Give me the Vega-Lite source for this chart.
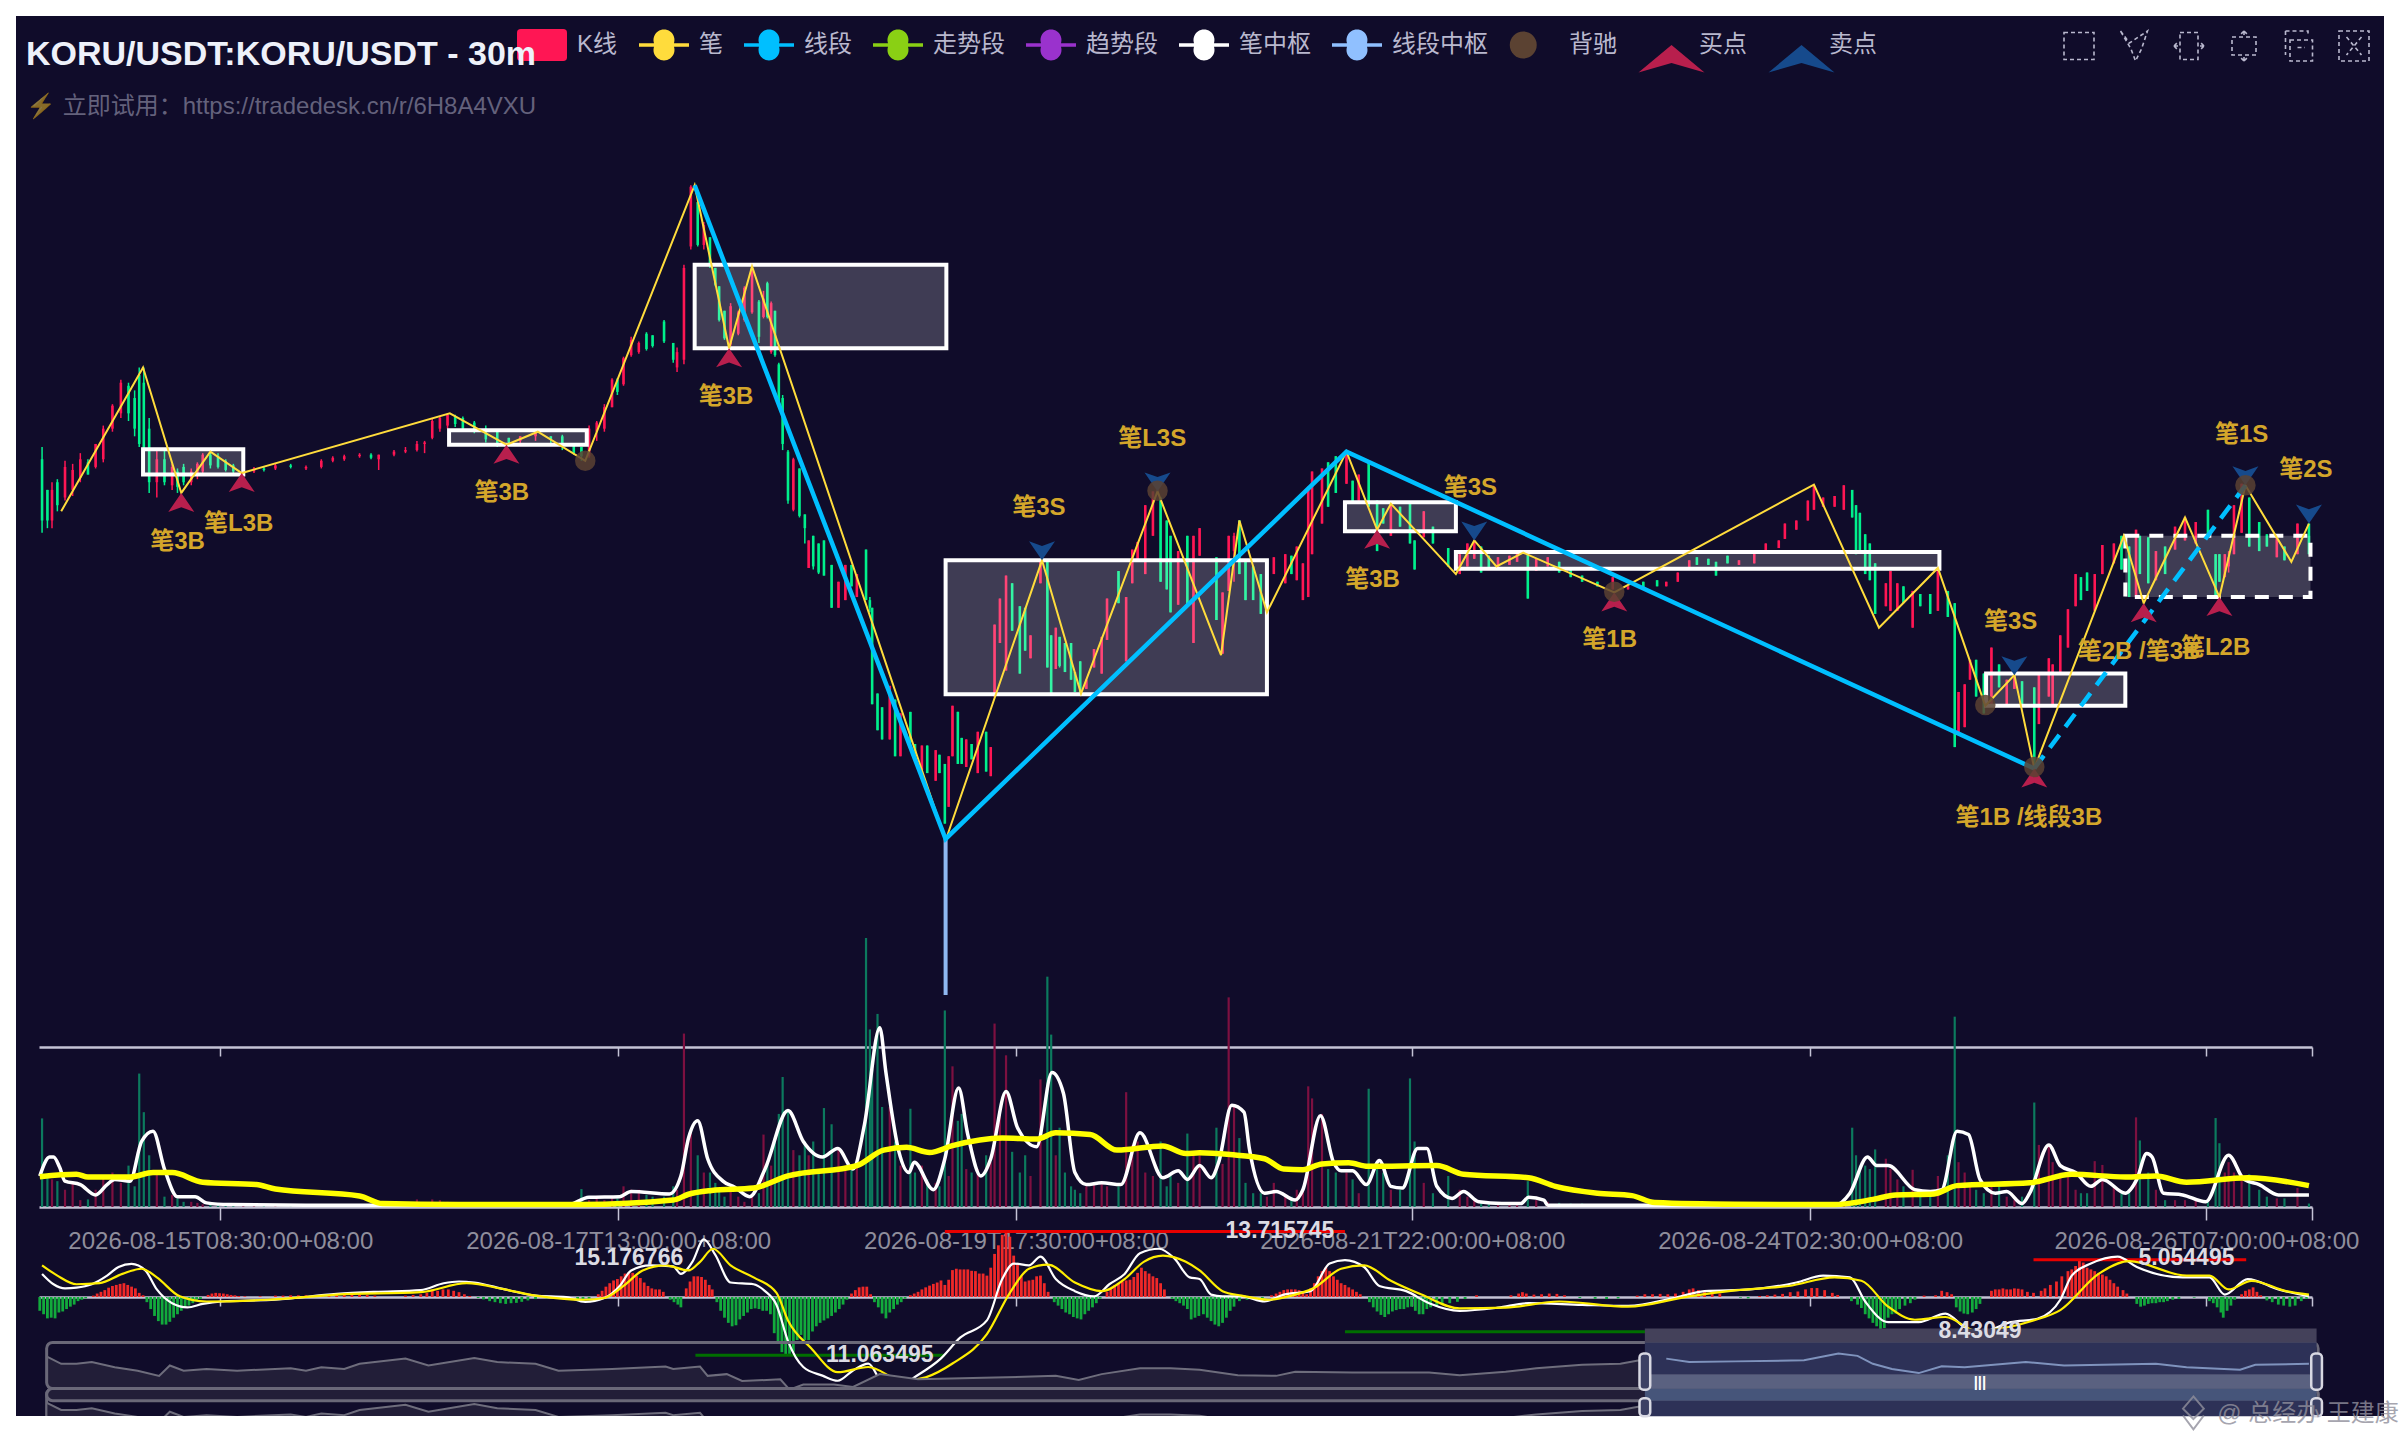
{
"$schema":"https://vega.github.io/schema/vega-lite/v6.json",
"description":"KORU/USDT 30m chan theory chart with volume and MACD",
"width":2368,"height":1400,"autosize":"none",
"padding":{"left":16,"top":16,"right":16,"bottom":24},
"background":"#ffffff",
"view":{"fill":"#100c2a","stroke":null},
"title":{"text":"KORU/USDT:KORU/USDT - 30m","subtitle":"⚡ 立即试用：https://tradedesk.cn/r/6H8A4VXU","anchor":"start","frame":"group","offset":-103,"dx":10,"color":"#eef1fa","font":"Liberation Sans","fontSize":34,"fontWeight":"bold","subtitleColor":"rgba(185,184,206,0.5)","subtitleFontSize":24,"subtitleFont":"Liberation Sans, Noto Sans CJK SC","subtitlePadding":23},
"datasets":{
"k":[
{"t":55,"o":70,"c":66,"h":70.8,"l":65.2,"v":257},{"t":62,"o":68,"c":66,"h":68,"l":65.5,"v":90},{"t":68,"o":66,"c":68,"h":68.5,"l":65.5,"v":80},{"t":75,"o":68.5,"c":67,"h":68.7,"l":66.6,"v":75},{"t":85,"o":67.5,"c":69.5,"h":69.9,"l":67.3,"v":50},{"t":95,"o":68,"c":69.3,"h":69.7,"l":67.6,"v":70},{"t":105,"o":68.8,"c":70,"h":70.4,"l":68.5,"v":20},{"t":115,"o":69.8,"c":69,"h":70,"l":69,"v":22},{"t":125,"o":69.5,"c":71,"h":71,"l":69.4,"v":50},{"t":135,"o":70,"c":72,"h":72.2,"l":69.8,"v":90},{"t":147,"o":72,"c":73.5,"h":73.6,"l":71.8,"v":100},{"t":158,"o":73,"c":75,"h":75.2,"l":72.7,"v":70},{"t":168,"o":74.8,"c":73,"h":75,"l":72.5,"v":120},{"t":176,"o":74,"c":72,"h":74.5,"l":71.5,"v":60},{"t":182,"o":75.5,"c":71,"h":76,"l":70.8,"v":387},{"t":188,"o":75,"c":70.5,"h":76,"l":70,"v":275},
{"t":195,"o":72,"c":68.5,"h":72.7,"l":67.8,"v":150},{"t":205,"o":68.5,"c":70,"h":70.6,"l":67.5,"v":100},{"t":215,"o":70,"c":68.5,"h":70.6,"l":68.3,"v":30},{"t":225,"o":68.3,"c":69.5,"h":69.7,"l":68,"v":35},{"t":232,"o":69.2,"c":68.2,"h":69.4,"l":67.8,"v":25},{"t":240,"o":69.5,"c":68.5,"h":69.7,"l":68.3,"v":15},{"t":250,"o":68.5,"c":69.2,"h":69.4,"l":68.3,"v":15},{"t":258,"o":69,"c":69.7,"h":69.8,"l":68.7,"v":12},{"t":265,"o":69.2,"c":70.3,"h":70.4,"l":69,"v":8},{"t":275,"o":70.3,"c":69.6,"h":70.5,"l":69.4,"v":8},{"t":285,"o":70.2,"c":69.5,"h":70.4,"l":69.4,"v":8},{"t":295,"o":69.9,"c":69.3,"h":70,"l":69.2,"v":7},{"t":305,"o":69.6,"c":69.2,"h":69.7,"l":69.1,"v":6},{"t":318,"o":69.1,"c":69.3,"h":69.4,"l":69,"v":5},{"t":332,"o":69.2,"c":69.4,"h":69.5,"l":69.1,"v":5},{"t":345,"o":69.4,"c":69.3,"h":69.5,"l":69.2,"v":5},{"t":360,"o":69.4,"c":69.6,"h":69.7,"l":69.3,"v":5},{"t":380,"o":69.6,"c":69.5,"h":69.7,"l":69.4,"v":4},{"t":400,"o":69.4,"c":69.5,"h":69.6,"l":69.3,"v":4},{"t":420,"o":69.5,"c":69.9,"h":70,"l":69.4,"v":4},{"t":435,"o":69.9,"c":70.1,"h":70.2,"l":69.8,"v":5},{"t":450,"o":70,"c":70.2,"h":70.3,"l":69.9,"v":5},{"t":470,"o":70.2,"c":70.3,"h":70.4,"l":70.1,"v":5},{"t":485,"o":70.3,"c":70.1,"h":70.4,"l":70,"v":5},{"t":495,"o":70,"c":70.3,"h":70.3,"l":69.3,"v":6},{"t":515,"o":70.3,"c":70.5,"h":70.6,"l":70.2,"v":6},{"t":530,"o":70.5,"c":70.6,"h":70.8,"l":70.4,"v":6},{"t":545,"o":70.6,"c":71,"h":71.2,"l":70.5,"v":22},{"t":555,"o":71,"c":71.1,"h":71.2,"l":70.4,"v":10},{"t":565,"o":71.4,"c":72.5,"h":72.7,"l":71.3,"v":22},{"t":575,"o":72,"c":72.7,"h":72.8,"l":71.8,"v":20},{"t":585,"o":72.2,"c":72.9,"h":73,"l":72,"v":15},{"t":595,"o":72.8,"c":72.3,"h":72.9,"l":72.1,"v":10},{"t":605,"o":72.7,"c":72,"h":72.8,"l":71.8,"v":10},{"t":620,"o":72.4,"c":71.9,"h":72.5,"l":71.7,"v":8},{"t":635,"o":72,"c":71.3,"h":72.2,"l":71.1,"v":8},{"t":650,"o":71.8,"c":71,"h":71.9,"l":70.8,"v":8},{"t":665,"o":71.4,"c":71.1,"h":71.4,"l":71,"v":7},{"t":680,"o":71.2,"c":71.5,"h":71.5,"l":71,"v":6},{"t":700,"o":71.5,"c":71.8,"h":71.8,"l":71.2,"v":6},{"t":720,"o":71.5,"c":71.3,"h":71.5,"l":71,"v":6},{"t":735,"o":71.5,"c":70.8,"h":71.6,"l":70.6,"v":8},{"t":750,"o":71,"c":70.4,"h":71,"l":70.3,"v":15},{"t":760,"o":70.8,"c":70.2,"h":70.8,"l":69.9,"v":52},{"t":770,"o":70.2,"c":72,"h":72.2,"l":70.1,"v":20},{"t":780,"o":71.8,"c":72.4,"h":72.5,"l":71.2,"v":25},{"t":790,"o":72,"c":73.4,"h":73.6,"l":71.8,"v":20},{"t":800,"o":73.4,"c":75.2,"h":75.3,"l":73.4,"v":30},{"t":807,"o":75.2,"c":74.4,"h":75.3,"l":74.2,"v":25},{"t":815,"o":74.9,"c":76.6,"h":76.7,"l":74.8,"v":60},{"t":825,"o":76.8,"c":77.8,"h":78,"l":76.7,"v":50},{"t":835,"o":77,"c":77.6,"h":77.7,"l":76.9,"v":50},{"t":845,"o":78.2,"c":77.2,"h":78.3,"l":77.1,"v":35},{"t":853,"o":78.1,"c":77.4,"h":78.1,"l":77.3,"v":30},{"t":868,"o":79,"c":77.7,"h":79.1,"l":77.6,"v":30},{"t":880,"o":77.6,"c":76.5,"h":77.6,"l":76.3,"v":60},{"t":885,"o":76,"c":77,"h":77.3,"l":75.7,"v":50},{"t":894,"o":76.5,"c":82.5,"h":82.7,"l":76.2,"v":503},{"t":903,"o":83.9,"c":87.8,"h":87.9,"l":83.7,"v":220},{"t":912,"o":86.8,"c":84,"h":86.9,"l":83.9,"v":150},{"t":920,"o":84,"c":85.3,"h":85.5,"l":83.7,"v":100},{"t":928,"o":84.5,"c":82.6,"h":84.5,"l":82.5,"v":100},{"t":935,"o":82.5,"c":81.4,"h":82.5,"l":81.3,"v":70},{"t":940,"o":81.3,"c":79.1,"h":81.3,"l":79,"v":50},{"t":947,"o":79.7,"c":77.9,"h":79.7,"l":77.8,"v":30},{"t":955,"o":77.5,"c":80,"h":80.2,"l":77.4,"v":50},{"t":965,"o":78.2,"c":79.6,"h":79.7,"l":78.1,"v":30},{"t":973,"o":79.1,"c":81.2,"h":81.3,"l":79,"v":15},{"t":983,"o":79.6,"c":82.5,"h":82.6,"l":79.5,"v":30},{"t":992,"o":80.3,"c":78,"h":80.4,"l":77.6,"v":40},{"t":998,"o":79.3,"c":80.5,"h":81,"l":79.2,"v":210},{"t":1003,"o":81.5,"c":79.3,"h":81.6,"l":79.2,"v":130},{"t":1008,"o":77,"c":80.2,"h":80.3,"l":76.9,"v":120},{"t":1013,"o":79.7,"c":76.8,"h":79.7,"l":76.7,"v":200},{"t":1018,"o":76.2,"c":73.7,"h":76.3,"l":73.6,"v":270},{"t":1023,"o":74,"c":71,"h":74.2,"l":70.6,"v":377},{"t":1030,"o":70.5,"c":67.3,"h":70.6,"l":67.1,"v":280},{"t":1037,"o":66.7,"c":70,"h":70.1,"l":66.6,"v":165},{"t":1045,"o":69.4,"c":66.3,"h":69.4,"l":66.2,"v":150},{"t":1052,"o":66.4,"c":65.5,"h":66.4,"l":64.5,"v":190},{"t":1057,"o":62.9,"c":64.7,"h":64.7,"l":62.9,"v":150},{"t":1063,"o":65,"c":63,"h":65,"l":62.8,"v":190},{"t":1070,"o":64.5,"c":62.6,"h":64.5,"l":62.5,"v":100},{"t":1077,"o":64.7,"c":62.4,"h":64.7,"l":62.4,"v":287},{"t":1087,"o":63.1,"c":60.3,"h":63.1,"l":60.3,"v":240},{"t":1096,"o":60.3,"c":62,"h":62,"l":60.3,"v":170},{"t":1105,"o":60.8,"c":63.1,"h":63.1,"l":60.8,"v":120},{"t":1113,"o":63.1,"c":61.7,"h":63.1,"l":61.7,"v":110},{"t":1120,"o":61,"c":62.5,"h":62.5,"l":61,"v":120},{"t":1132,"o":64.1,"c":60.8,"h":64.1,"l":60.8,"v":780},{"t":1137,"o":60.8,"c":60.3,"h":61,"l":60,"v":515},{"t":1140,"o":60.3,"c":54,"h":60.3,"l":54,"v":400},{"t":1147,"o":54.7,"c":52.3,"h":54.7,"l":52.3,"v":560},{"t":1153,"o":53.8,"c":51.7,"h":53.8,"l":51.7,"v":290},{"t":1163,"o":51.7,"c":55.2,"h":55.2,"l":51.7,"v":290},{"t":1170,"o":54.3,"c":50.6,"h":54.3,"l":50.6,"v":190},{"t":1177,"o":50.6,"c":53.4,"h":53.4,"l":50.6,"v":120},{"t":1190,"o":53.5,"c":51.5,"h":53.5,"l":51.5,"v":285},{"t":1196,"o":51.4,"c":50.4,"h":51.4,"l":50.4,"v":100},{"t":1205,"o":49.7,"c":51.3,"h":51.3,"l":49.7,"v":120},{"t":1212,"o":51.3,"c":49.5,"h":51.3,"l":49.5,"v":80},{"t":1223,"o":49,"c":51,"h":51,"l":49,"v":70},{"t":1228,"o":50.7,"c":49.5,"h":50.7,"l":49.5,"v":60},{"t":1235,"o":50.1,"c":46.2,"h":50.1,"l":46.2,"v":570},{"t":1240,"o":47.3,"c":50.6,"h":50.6,"l":47.3,"v":90},{"t":1245,"o":50.6,"c":53.9,"h":53.9,"l":50.6,"v":408},{"t":1252,"o":53.5,"c":50.1,"h":53.5,"l":50.1,"v":250},{"t":1257,"o":51.8,"c":50.1,"h":51.8,"l":50.1,"v":270},{"t":1263,"o":49.9,"c":51.7,"h":51.7,"l":49.9,"v":110},{"t":1270,"o":51.4,"c":50.4,"h":51.4,"l":50.4,"v":100},{"t":1278,"o":49.5,"c":52.2,"h":52.2,"l":49.5,"v":110},{"t":1289,"o":52.2,"c":49.6,"h":52.2,"l":49.6,"v":150},{"t":1295,"o":49.3,"c":51.2,"h":51.2,"l":49.3,"v":130},{"t":1300,"o":54.5,"c":59.2,"h":59.2,"l":54.5,"v":532},{"t":1307,"o":58,"c":60.9,"h":60.9,"l":58,"v":270},{"t":1315,"o":56.2,"c":62.4,"h":62.4,"l":56.2,"v":440},{"t":1323,"o":61.9,"c":58.8,"h":61.9,"l":58.8,"v":160},{"t":1333,"o":60.4,"c":56,"h":60.4,"l":56,"v":100},{"t":1340,"o":60.3,"c":57.5,"h":60.3,"l":57.5,"v":150},{"t":1347,"o":57,"c":58.5,"h":58.5,"l":57,"v":90},{"t":1360,"o":61.9,"c":63.4,"h":63.4,"l":61.9,"v":370},{"t":1369,"o":63.4,"c":56.4,"h":63.4,"l":56.4,"v":668},{"t":1374,"o":58.5,"c":54.6,"h":58.5,"l":54.6,"v":500},{"t":1380,"o":56.3,"c":59,"h":59,"l":56.3,"v":150},{"t":1385,"o":58.4,"c":56.5,"h":58.4,"l":56.4,"v":230},{"t":1392,"o":58,"c":56.1,"h":58,"l":56.1,"v":100},{"t":1400,"o":58,"c":55.6,"h":58,"l":55.6,"v":60},{"t":1405,"o":56.1,"c":54.8,"h":56.1,"l":54.8,"v":50},{"t":1412,"o":56.8,"c":54.7,"h":56.8,"l":54.7,"v":40},{"t":1420,"o":55,"c":55.6,"h":55.6,"l":55,"v":60},{"t":1430,"o":56.4,"c":57.6,"h":57.6,"l":56.4,"v":70},{"t":1440,"o":56,"c":58.4,"h":58.4,"l":56,"v":70},{"t":1447,"o":58.2,"c":60.9,"h":60.9,"l":58.2,"v":60},{"t":1462,"o":62.7,"c":60.6,"h":62.7,"l":60.6,"v":60},{"t":1472,"o":56.8,"c":61,"h":61,"l":56.8,"v":333},{"t":1480,"o":61.9,"c":64.1,"h":64.1,"l":61.9,"v":180},{"t":1487,"o":63.4,"c":64.6,"h":64.6,"l":63.4,"v":190},{"t":1497,"o":62.5,"c":67,"h":67,"l":62.5,"v":100},{"t":1507,"o":65,"c":67.9,"h":67.9,"l":65,"v":90},{"t":1517,"o":67.5,"c":62,"h":67.5,"l":62,"v":190},{"t":1525,"o":66,"c":61.5,"h":66,"l":61.5,"v":60},{"t":1530,"o":65,"c":60,"h":65,"l":60,"v":90},{"t":1540,"o":60.5,"c":64,"h":64,"l":60.5,"v":70},{"t":1552,"o":65,"c":60.5,"h":65,"l":60.5,"v":213},{"t":1560,"o":58,"c":65,"h":65,"l":58,"v":150},
{"t":1568,"o":63.7,"c":65.5,"h":65.5,"l":63.7,"v":150},{"t":1590,"o":63.6,"c":59.5,"h":63.6,"l":59.5,"v":230},{"t":1598,"o":57.3,"c":61.3,"h":61.3,"l":57.3,"v":125},{"t":1606,"o":61.4,"c":65,"h":65,"l":61.4,"v":608},{"t":1613,"o":64,"c":65,"h":65.2,"l":62,"v":290},{"t":1620,"o":66,"c":62.5,"h":66,"l":62.5,"v":200},{"t":1628,"o":63.4,"c":60.8,"h":63.4,"l":60.8,"v":70},{"t":1638,"o":63,"c":60.8,"h":63,"l":60.8,"v":40},{"t":1648,"o":62.5,"c":59.9,"h":62.5,"l":59.9,"v":40},{"t":1656,"o":60,"c":61.4,"h":61.4,"l":60,"v":30},{"t":1665,"o":62.5,"c":63.6,"h":63.6,"l":62.5,"v":70},{"t":1680,"o":61.9,"c":63.8,"h":63.8,"l":61.9,"v":30},{"t":1688,"o":63.7,"c":62.5,"h":63.7,"l":62.5,"v":30},{"t":1695,"o":62.1,"c":64.3,"h":64.3,"l":62.1,"v":50},{"t":1703,"o":60.8,"c":63.2,"h":63.2,"l":60.8,"v":50},{"t":1710,"o":61,"c":68.2,"h":68.2,"l":61,"v":350},{"t":1715,"o":63.8,"c":69.2,"h":69.2,"l":63.8,"v":315},{"t":1728,"o":65.8,"c":69.4,"h":69.4,"l":65.8,"v":270},{"t":1736,"o":69.8,"c":66.9,"h":69.8,"l":66.9,"v":110},{"t":1746,"o":70.2,"c":67.8,"h":70.2,"l":67.8,"v":100},{"t":1760,"o":68.4,"c":70.5,"h":70.5,"l":68.4,"v":100},{"t":1768,"o":68.6,"c":67.2,"h":68.6,"l":67.2,"v":80},{"t":1776,"o":67.3,"c":69,"h":69,"l":67.3,"v":40},{"t":1789,"o":69.9,"c":66.9,"h":69.9,"l":66.9,"v":343},{"t":1800,"o":67.3,"c":64,"h":67.3,"l":64,"v":110},{"t":1808,"o":66.8,"c":65.8,"h":66.8,"l":65.8,"v":100},{"t":1818,"o":65,"c":67.1,"h":67.1,"l":65,"v":50},{"t":1830,"o":66.9,"c":65.6,"h":66.9,"l":65.6,"v":50},{"t":1843,"o":67.2,"c":64.5,"h":67.2,"l":64.5,"v":373},{"t":1849,"o":64.7,"c":62.8,"h":64.7,"l":62.8,"v":190},{"t":1861,"o":64.9,"c":66.6,"h":66.6,"l":64.9,"v":70},{"t":1873,"o":65.6,"c":64.5,"h":65.6,"l":64.5,"v":40},{"t":1893,"o":64.2,"c":63,"h":64.2,"l":63,"v":90},{"t":1908,"o":62.5,"c":63.8,"h":63.8,"l":62.5,"v":50},{"t":1918,"o":63,"c":64.5,"h":64.5,"l":63,"v":30},{"t":1927,"o":63.5,"c":64.7,"h":64.7,"l":63.5,"v":20},{"t":1936,"o":64.3,"c":62.6,"h":64.3,"l":62.6,"v":15},{"t":1946,"o":63.7,"c":62.8,"h":63.7,"l":62.8,"v":12},{"t":1958,"o":62.9,"c":63.6,"h":63.6,"l":62.9,"v":10},{"t":1973,"o":63.1,"c":63.7,"h":63.7,"l":63.1,"v":10},{"t":1983,"o":63.3,"c":64,"h":64,"l":63.3,"v":10},{"t":1997,"o":63.8,"c":60.9,"h":63.8,"l":60.9,"v":75},{"t":2008,"o":62.7,"c":63.5,"h":63.5,"l":62.7,"v":20},{"t":2023,"o":63,"c":63.6,"h":63.6,"l":63,"v":15},{"t":2038,"o":63.3,"c":62.6,"h":63.3,"l":62.6,"v":12},{"t":2053,"o":62.8,"c":62.3,"h":62.8,"l":62.3,"v":10},{"t":2068,"o":62.4,"c":62,"h":62.4,"l":62,"v":10},{"t":2088,"o":62,"c":61.7,"h":62,"l":61.7,"v":8},{"t":2108,"o":61.5,"c":62.3,"h":62.3,"l":61.5,"v":8},{"t":2128,"o":61.5,"c":61.7,"h":61.7,"l":61.5,"v":8},{"t":2148,"o":62,"c":61.5,"h":62,"l":61.5,"v":8},{"t":2166,"o":62.1,"c":61.7,"h":62.1,"l":61.7,"v":12},{"t":2178,"o":61.7,"c":62,"h":62,"l":61.7,"v":10},{"t":2193,"o":62,"c":62.6,"h":62.6,"l":62,"v":10},{"t":2208,"o":62.8,"c":63.4,"h":63.4,"l":62.8,"v":8},{"t":2218,"o":63.6,"c":63.1,"h":63.6,"l":63.1,"v":8},{"t":2233,"o":63.5,"c":63.1,"h":63.5,"l":63.1,"v":8},{"t":2243,"o":63.3,"c":62.4,"h":63.3,"l":62.4,"v":10},{"t":2258,"o":63.7,"c":63.2,"h":63.7,"l":63.2,"v":10},{"t":2273,"o":63.1,"c":63.4,"h":63.4,"l":63.1,"v":8},{"t":2293,"o":63.2,"c":64,"h":64,"l":63.2,"v":8},{"t":2308,"o":64,"c":64.5,"h":64.5,"l":64,"v":10},{"t":2325,"o":64.2,"c":64.7,"h":64.7,"l":64.2,"v":10},{"t":2333,"o":64.8,"c":65.8,"h":65.8,"l":64.8,"v":10},{"t":2348,"o":65.4,"c":66,"h":66,"l":65.4,"v":12},{"t":2363,"o":66,"c":67.3,"h":67.3,"l":66,"v":15},{"t":2371,"o":66.7,"c":68.3,"h":68.3,"l":66.7,"v":15},{"t":2383,"o":66.9,"c":67.5,"h":67.5,"l":66.9,"v":10},{"t":2398,"o":66.9,"c":67.6,"h":67.6,"l":66.9,"v":10},{"t":2410,"o":66.7,"c":68.3,"h":68.3,"l":66.7,"v":10},{"t":2421,"o":68,"c":66.2,"h":68,"l":66.2,"v":230},{"t":2426,"o":67,"c":63.8,"h":67,"l":63.8,"v":150},{"t":2431,"o":66.5,"c":63.9,"h":66.5,"l":63.9,"v":120},{"t":2438,"o":65.1,"c":62.5,"h":65.1,"l":62.5,"v":120},{"t":2444,"o":64.5,"c":62.1,"h":64.5,"l":62.1,"v":110},{"t":2451,"o":63.2,"c":59.9,"h":63.2,"l":59.9,"v":167},{"t":2465,"o":60.4,"c":61.9,"h":61.9,"l":60.4,"v":140},{"t":2471,"o":60.1,"c":62.7,"h":62.7,"l":60.1,"v":110},{"t":2480,"o":60.1,"c":61.9,"h":61.9,"l":60.1,"v":80},{"t":2488,"o":61.7,"c":60.6,"h":61.7,"l":60.6,"v":60},{"t":2500,"o":59,"c":61.4,"h":61.4,"l":59,"v":108},{"t":2510,"o":61.2,"c":60.4,"h":61.2,"l":60.4,"v":30},{"t":2523,"o":61.2,"c":59.9,"h":61.2,"l":59.9,"v":30},{"t":2533,"o":60.1,"c":62.9,"h":62.9,"l":60.1,"v":90},{"t":2546,"o":61.4,"c":59.7,"h":61.4,"l":59.7,"v":150},{"t":2555,"o":60.6,"c":51.2,"h":60.6,"l":51.2,"v":552},{"t":2560,"o":52,"c":54.8,"h":54.8,"l":52,"v":130},{"t":2568,"o":52.5,"c":55.3,"h":55.3,"l":52.5,"v":100},{"t":2575,"o":55.6,"c":56.9,"h":56.9,"l":55.6,"v":60},{"t":2583,"o":56.9,"c":54.5,"h":56.9,"l":54.5,"v":50},{"t":2593,"o":56,"c":53.4,"h":56,"l":53.4,"v":40},{"t":2603,"o":54,"c":57.7,"h":57.7,"l":54,"v":60},{"t":2613,"o":56.6,"c":55.1,"h":56.6,"l":55.1,"v":60},{"t":2623,"o":54,"c":55.6,"h":55.6,"l":54,"v":30},{"t":2633,"o":55,"c":55.9,"h":55.9,"l":55,"v":20},{"t":2643,"o":55.5,"c":54,"h":55.5,"l":54,"v":30},{"t":2659,"o":55.1,"c":49.8,"h":55.1,"l":49.8,"v":303},{"t":2665,"o":52.7,"c":56,"h":56,"l":52.7,"v":180},{"t":2678,"o":54.5,"c":57,"h":57,"l":54.5,"v":180},{"t":2683,"o":54,"c":56.6,"h":56.6,"l":54,"v":130},{"t":2693,"o":56,"c":58.5,"h":58.5,"l":56,"v":100},{"t":2703,"o":57.7,"c":60.2,"h":60.2,"l":57.7,"v":100},{"t":2713,"o":60.4,"c":62.5,"h":62.5,"l":60.4,"v":50},{"t":2720,"o":62.3,"c":60.8,"h":62.3,"l":60.8,"v":40},{"t":2728,"o":62.6,"c":61.4,"h":62.6,"l":61.4,"v":40},{"t":2738,"o":60.1,"c":62.5,"h":62.5,"l":60.1,"v":133},{"t":2748,"o":62.5,"c":64.4,"h":64.4,"l":62.5,"v":122},{"t":2763,"o":63.2,"c":64.5,"h":64.5,"l":63.2,"v":60},{"t":2773,"o":65,"c":62.8,"h":65,"l":62.8,"v":40},{"t":2783,"o":64.3,"c":61,"h":64.3,"l":61,"v":40},{"t":2792,"o":61,"c":65.4,"h":65.4,"l":61,"v":260},{"t":2797,"o":65,"c":62.5,"h":65,"l":62.5,"v":193},{"t":2808,"o":64.9,"c":61.9,"h":64.9,"l":61.9,"v":100},{"t":2818,"o":62.1,"c":64,"h":64,"l":62.1,"v":50},{"t":2830,"o":64.3,"c":62.5,"h":64.3,"l":62.5,"v":20},{"t":2843,"o":64.1,"c":65.6,"h":65.6,"l":64.1,"v":20},{"t":2856,"o":64.7,"c":66.2,"h":66.2,"l":64.7,"v":20},{"t":2870,"o":64.5,"c":65.9,"h":65.9,"l":64.5,"v":20},{"t":2886,"o":66.7,"c":65,"h":66.7,"l":65,"v":15},{"t":2896,"o":63.8,"c":61,"h":63.8,"l":61,"v":258},{"t":2901,"o":63.8,"c":62,"h":63.8,"l":62,"v":185},{"t":2908,"o":62.3,"c":63.8,"h":63.8,"l":62.3,"v":100},{"t":2913,"o":63,"c":63.6,"h":64,"l":62.6,"v":130},{"t":2920,"o":63.8,"c":67,"h":67,"l":63.8,"v":100},{"t":2930,"o":65.2,"c":68.4,"h":68.4,"l":65.2,"v":95},{"t":2940,"o":67.5,"c":64.3,"h":67.5,"l":64.3,"v":95},{"t":2953,"o":65.9,"c":64,"h":65.9,"l":64,"v":50},{"t":2963,"o":65.1,"c":64.3,"h":65.1,"l":64.3,"v":30},{"t":2976,"o":63.6,"c":64.9,"h":64.9,"l":63.6,"v":25},{"t":2986,"o":64.3,"c":63.4,"h":64.3,"l":63.4,"v":25},{"t":3003,"o":63.8,"c":65.8,"h":65.8,"l":63.8,"v":55},{"t":3018,"o":65.8,"c":63.8,"h":65.8,"l":63.8,"v":10}
],
"bi":[{"t":80,"p":66.6},{"t":187,"p":76},{"t":237,"p":67.8},{"t":275,"p":70.5},{"t":316,"p":69.1},{"t":588,"p":73},{"t":662,"p":70.95},{"t":703,"p":71.8},{"t":765,"p":69.9},{"t":908,"p":87.9},{"t":953,"p":77.25},{"t":983,"p":82.6},{"t":1236,"p":45.1},{"t":1362,"p":63.4},{"t":1413,"p":54.7},{"t":1513,"p":67.9},{"t":1596,"p":57.2},{"t":1620,"p":66},{"t":1656,"p":60},{"t":1760,"p":70.5},{"t":1800,"p":65.4},{"t":1818,"p":67.1},{"t":1903,"p":62.5},{"t":1927,"p":64.7},{"t":1956,"p":63},{"t":1991,"p":63.9},{"t":2110,"p":61.3},{"t":2371,"p":68.35},{"t":2456,"p":59},{"t":2533,"p":62.9},{"t":2595,"p":53.9},{"t":2633,"p":55.9},{"t":2659,"p":49.8},{"t":2776,"p":65},{"t":2802,"p":60.6},{"t":2856,"p":66.2},{"t":2901,"p":61},{"t":2935,"p":68.3},{"t":2995,"p":63.3},{"t":3018,"p":65.8}],
"seg":[{"t":908,"p":87.9},{"t":1236,"p":45.2},{"t":1760,"p":70.5},{"t":2659,"p":49.8}],
"segLast":[{"t":2659,"p":49.8},{"t":2935,"p":68.3}],
"zs":[{"t":187,"t2":318,"p":70.65,"p2":69},{"t":587,"t2":767,"p":71.9,"p2":70.95},{"t":908,"t2":1237,"p":82.7,"p2":77.25},{"t":1236,"t2":1656,"p":63.4,"p2":54.65},{"t":1758,"t2":1903,"p":67.2,"p2":65.3},{"t":1903,"t2":2535,"p":63.95,"p2":62.85},{"t":2596,"t2":2778,"p":56,"p2":53.9}],
"zsLast":[{"t":2778,"t2":3020,"p":65,"p2":61}],
"buy":[{"t":237,"p":67.8},{"t":316,"p":69.1},{"t":662,"p":70.95},{"t":953,"p":77.25},{"t":1800,"p":65.4},{"t":2110,"p":61.3},{"t":2659,"p":49.8},{"t":2802,"p":60.6},{"t":2901,"p":61}],
"sell":[{"t":1362,"p":63.4},{"t":1513,"p":67.9},{"t":1927,"p":64.7},{"t":2633,"p":55.9},{"t":2935,"p":68.3},{"t":3018,"p":65.8}],
"bc":[{"t":765,"p":69.9},{"t":1513,"p":67.95},{"t":2110,"p":61.35},{"t":2595,"p":53.95},{"t":2659,"p":49.9},{"t":2935,"p":68.3}],
"sig":[{"t":232,"p":64.6,"x":"笔3B"},{"t":312,"p":65.8,"x":"笔L3B"},{"t":656,"p":67.8,"x":"笔3B"},{"t":949,"p":74.1,"x":"笔3B"},{"t":1358,"p":66.8,"x":"笔3S"},{"t":1506,"p":71.3,"x":"笔L3S"},{"t":1922,"p":68.1,"x":"笔3S"},{"t":1794,"p":62.1,"x":"笔3B"},{"t":2104,"p":58.2,"x":"笔1B"},{"t":2628,"p":59.4,"x":"笔3S"},{"t":2652,"p":46.6,"x":"笔1B /线段3B"},{"t":2796,"p":57.4,"x":"笔2B /笔3B"},{"t":2896,"p":57.7,"x":"笔L2B"},{"t":2930,"p":71.6,"x":"笔1S"},{"t":3014,"p":69.3,"x":"笔2S"}],
"ma5":[{"t":52,"v":90},{"t":65,"v":145},{"t":70,"v":145},{"t":78,"v":115},{"t":85,"v":75},{"t":105,"v":65},{"t":125,"v":35},{"t":140,"v":65},{"t":150,"v":80},{"t":170,"v":75},{"t":185,"v":190},{"t":200,"v":220},{"t":215,"v":110},{"t":232,"v":30},{"t":255,"v":30},{"t":270,"v":12},{"t":300,"v":7},{"t":400,"v":5},{"t":500,"v":5},{"t":600,"v":5},{"t":740,"v":5},{"t":770,"v":28},{"t":810,"v":30},{"t":825,"v":45},{"t":875,"v":38},{"t":890,"v":90},{"t":900,"v":200},{"t":912,"v":250},{"t":925,"v":140},{"t":945,"v":75},{"t":960,"v":58},{"t":980,"v":30},{"t":1000,"v":110},{"t":1030,"v":280},{"t":1050,"v":190},{"t":1075,"v":145},{"t":1095,"v":170},{"t":1115,"v":110},{"t":1130,"v":240},{"t":1150,"v":520},{"t":1158,"v":390},{"t":1175,"v":160},{"t":1188,"v":100},{"t":1195,"v":130},{"t":1220,"v":50},{"t":1235,"v":140},{"t":1253,"v":345},{"t":1265,"v":210},{"t":1282,"v":90},{"t":1295,"v":140},{"t":1315,"v":335},{"t":1330,"v":230},{"t":1355,"v":175},{"t":1375,"v":390},{"t":1390,"v":330},{"t":1405,"v":100},{"t":1420,"v":65},{"t":1440,"v":70},{"t":1465,"v":65},{"t":1490,"v":215},{"t":1520,"v":85},{"t":1540,"v":105},{"t":1552,"v":80},{"t":1568,"v":120},{"t":1583,"v":85},{"t":1593,"v":130},{"t":1610,"v":295},{"t":1626,"v":275},{"t":1633,"v":170},{"t":1653,"v":40},{"t":1668,"v":45},{"t":1693,"v":20},{"t":1703,"v":50},{"t":1726,"v":265},{"t":1743,"v":130},{"t":1753,"v":105},{"t":1768,"v":105},{"t":1786,"v":65},{"t":1803,"v":135},{"t":1818,"v":60},{"t":1833,"v":55},{"t":1853,"v":170},{"t":1865,"v":170},{"t":1878,"v":60},{"t":1898,"v":25},{"t":1913,"v":45},{"t":1933,"v":15},{"t":1963,"v":10},{"t":1988,"v":10},{"t":1998,"v":28},{"t":2018,"v":20},{"t":2023,"v":5},{"t":2168,"v":5},{"t":2398,"v":5},{"t":2418,"v":40},{"t":2441,"v":145},{"t":2453,"v":120},{"t":2468,"v":120},{"t":2503,"v":50},{"t":2523,"v":45},{"t":2538,"v":50},{"t":2558,"v":220},{"t":2573,"v":210},{"t":2588,"v":80},{"t":2608,"v":40},{"t":2623,"v":45},{"t":2643,"v":10},{"t":2653,"v":40},{"t":2678,"v":180},{"t":2693,"v":120},{"t":2713,"v":100},{"t":2733,"v":60},{"t":2748,"v":80},{"t":2778,"v":40},{"t":2793,"v":80},{"t":2806,"v":155},{"t":2813,"v":145},{"t":2828,"v":40},{"t":2853,"v":35},{"t":2883,"v":15},{"t":2913,"v":150},{"t":2933,"v":80},{"t":2953,"v":65},{"t":2978,"v":35},{"t":3018,"v":35}],
"ma20":[{"t":52,"v":88},{"t":100,"v":95},{"t":115,"v":87},{"t":170,"v":87},{"t":200,"v":100},{"t":225,"v":100},{"t":265,"v":72},{"t":335,"v":65},{"t":360,"v":52},{"t":470,"v":32},{"t":500,"v":10},{"t":600,"v":7},{"t":760,"v":7},{"t":880,"v":20},{"t":900,"v":37},{"t":930,"v":48},{"t":985,"v":55},{"t":1030,"v":90},{"t":1120,"v":120},{"t":1155,"v":165},{"t":1185,"v":173},{"t":1215,"v":158},{"t":1245,"v":178},{"t":1310,"v":200},{"t":1355,"v":197},{"t":1380,"v":215},{"t":1425,"v":210},{"t":1460,"v":165},{"t":1520,"v":177},{"t":1550,"v":155},{"t":1568,"v":157},{"t":1608,"v":152},{"t":1653,"v":140},{"t":1678,"v":110},{"t":1703,"v":108},{"t":1728,"v":125},{"t":1763,"v":128},{"t":1788,"v":118},{"t":1878,"v":120},{"t":1913,"v":95},{"t":1998,"v":85},{"t":2033,"v":60},{"t":2088,"v":40},{"t":2133,"v":33},{"t":2163,"v":13},{"t":2268,"v":8},{"t":2398,"v":7},{"t":2448,"v":22},{"t":2478,"v":35},{"t":2528,"v":38},{"t":2558,"v":62},{"t":2653,"v":70},{"t":2708,"v":95},{"t":2778,"v":87},{"t":2818,"v":90},{"t":2858,"v":72},{"t":2938,"v":85},{"t":3018,"v":62}],
"hist":[{"t":52,"m":-40},{"t":57,"m":-50},{"t":62,"m":-62},{"t":67,"m":-60},{"t":72,"m":-62},{"t":77,"m":-45},{"t":82,"m":-42},{"t":87,"m":-35},{"t":92,"m":-28},{"t":97,"m":-22},{"t":102,"m":-12},{"t":107,"m":-8},{"t":112,"m":-4},{"t":122,"m":4},{"t":127,"m":10},{"t":132,"m":15},{"t":137,"m":20},{"t":142,"m":27},{"t":147,"m":32},{"t":152,"m":35},{"t":157,"m":38},{"t":162,"m":40},{"t":167,"m":35},{"t":172,"m":30},{"t":177,"m":25},{"t":182,"m":12},{"t":187,"m":5},{"t":192,"m":-15},{"t":197,"m":-35},{"t":202,"m":-55},{"t":207,"m":-70},{"t":212,"m":-80},{"t":217,"m":-80},{"t":222,"m":-72},{"t":227,"m":-60},{"t":232,"m":-50},{"t":237,"m":-40},{"t":242,"m":-32},{"t":247,"m":-25},{"t":252,"m":-18},{"t":257,"m":-12},{"t":262,"m":-6},{"t":272,"m":6},{"t":277,"m":10},{"t":282,"m":12},{"t":287,"m":11},{"t":292,"m":10},{"t":297,"m":8},{"t":302,"m":6},{"t":307,"m":5},{"t":312,"m":3},{"t":320,"m":2},{"t":340,"m":2},{"t":360,"m":4},{"t":370,"m":4},{"t":380,"m":5},{"t":390,"m":5},{"t":400,"m":5},{"t":410,"m":5},{"t":420,"m":6},{"t":430,"m":8},{"t":440,"m":9},{"t":450,"m":10},{"t":460,"m":8},{"t":470,"m":7},{"t":480,"m":6},{"t":490,"m":4},{"t":530,"m":4},{"t":540,"m":6},{"t":550,"m":8},{"t":558,"m":12},{"t":565,"m":18},{"t":572,"m":18},{"t":579,"m":22},{"t":586,"m":22},{"t":593,"m":18},{"t":600,"m":14},{"t":607,"m":8},{"t":614,"m":3},{"t":625,"m":-3},{"t":632,"m":-7},{"t":640,"m":-12},{"t":647,"m":-15},{"t":654,"m":-18},{"t":661,"m":-20},{"t":668,"m":-18},{"t":675,"m":-17},{"t":682,"m":-14},{"t":690,"m":-10},{"t":700,"m":-6},{"t":715,"m":-4},{"t":730,"m":-3},{"t":745,"m":-8},{"t":755,"m":-12},{"t":762,"m":-14},{"t":770,"m":-5},{"t":782,"m":8},{"t":787,"m":18},{"t":792,"m":30},{"t":797,"m":40},{"t":802,"m":48},{"t":807,"m":52},{"t":812,"m":60},{"t":817,"m":68},{"t":822,"m":72},{"t":827,"m":70},{"t":832,"m":62},{"t":837,"m":55},{"t":842,"m":42},{"t":847,"m":32},{"t":852,"m":25},{"t":857,"m":22},{"t":862,"m":22},{"t":867,"m":15},{"t":876,"m":-8},{"t":881,"m":-15},{"t":886,"m":-22},{"t":890,"m":-30},{"t":897,"m":25},{"t":902,"m":45},{"t":907,"m":60},{"t":912,"m":60},{"t":917,"m":58},{"t":922,"m":50},{"t":927,"m":35},{"t":931,"m":22},{"t":937,"m":-15},{"t":942,"m":-40},{"t":947,"m":-60},{"t":952,"m":-75},{"t":957,"m":-85},{"t":962,"m":-82},{"t":967,"m":-65},{"t":972,"m":-55},{"t":977,"m":-45},{"t":982,"m":-35},{"t":987,"m":-33},{"t":992,"m":-35},{"t":997,"m":-40},{"t":1002,"m":-40},{"t":1007,"m":-50},{"t":1012,"m":-105},{"t":1017,"m":-135},{"t":1022,"m":-160},{"t":1027,"m":-170},{"t":1032,"m":-165},{"t":1037,"m":-160},{"t":1042,"m":-125},{"t":1047,"m":-110},{"t":1052,"m":-125},{"t":1057,"m":-125},{"t":1062,"m":-100},{"t":1067,"m":-85},{"t":1072,"m":-75},{"t":1077,"m":-68},{"t":1082,"m":-62},{"t":1087,"m":-55},{"t":1092,"m":-45},{"t":1097,"m":-35},{"t":1102,"m":-22},{"t":1107,"m":-8},{"t":1113,"m":10},{"t":1118,"m":20},{"t":1123,"m":28},{"t":1128,"m":30},{"t":1133,"m":30},{"t":1138,"m":8},{"t":1143,"m":-15},{"t":1148,"m":-30},{"t":1153,"m":-48},{"t":1158,"m":-62},{"t":1163,"m":-45},{"t":1168,"m":-35},{"t":1173,"m":-22},{"t":1178,"m":-15},{"t":1183,"m":-5},{"t":1190,"m":5},{"t":1195,"m":10},{"t":1200,"m":15},{"t":1205,"m":22},{"t":1210,"m":28},{"t":1215,"m":33},{"t":1220,"m":38},{"t":1225,"m":42},{"t":1230,"m":48},{"t":1235,"m":35},{"t":1240,"m":50},{"t":1245,"m":78},{"t":1250,"m":82},{"t":1255,"m":80},{"t":1260,"m":80},{"t":1265,"m":80},{"t":1270,"m":76},{"t":1275,"m":75},{"t":1280,"m":68},{"t":1285,"m":68},{"t":1290,"m":62},{"t":1295,"m":85},{"t":1300,"m":125},{"t":1305,"m":150},{"t":1310,"m":180},{"t":1315,"m":190},{"t":1320,"m":175},{"t":1325,"m":120},{"t":1330,"m":95},{"t":1335,"m":60},{"t":1340,"m":45},{"t":1345,"m":48},{"t":1350,"m":50},{"t":1355,"m":60},{"t":1360,"m":62},{"t":1365,"m":40},{"t":1370,"m":15},{"t":1378,"m":-15},{"t":1383,"m":-25},{"t":1388,"m":-35},{"t":1393,"m":-45},{"t":1398,"m":-50},{"t":1403,"m":-58},{"t":1408,"m":-62},{"t":1413,"m":-65},{"t":1418,"m":-50},{"t":1423,"m":-40},{"t":1428,"m":-30},{"t":1433,"m":-18},{"t":1438,"m":-5},{"t":1447,"m":15},{"t":1452,"m":25},{"t":1457,"m":35},{"t":1462,"m":40},{"t":1467,"m":45},{"t":1472,"m":48},{"t":1477,"m":50},{"t":1482,"m":58},{"t":1487,"m":70},{"t":1492,"m":85},{"t":1497,"m":75},{"t":1502,"m":68},{"t":1507,"m":60},{"t":1512,"m":55},{"t":1517,"m":40},{"t":1522,"m":22},{"t":1532,"m":-5},{"t":1537,"m":-12},{"t":1542,"m":-18},{"t":1547,"m":-25},{"t":1552,"m":-35},{"t":1557,"m":-65},{"t":1562,"m":-60},{"t":1567,"m":-55},{"t":1573,"m":-50},{"t":1578,"m":-60},{"t":1583,"m":-70},{"t":1588,"m":-80},{"t":1593,"m":-85},{"t":1598,"m":-75},{"t":1603,"m":-60},{"t":1608,"m":-40},{"t":1613,"m":-28},{"t":1620,"m":-12},{"t":1630,"m":-8},{"t":1640,"m":-8},{"t":1650,"m":-10},{"t":1662,"m":5},{"t":1668,"m":10},{"t":1673,"m":15},{"t":1678,"m":20},{"t":1683,"m":22},{"t":1688,"m":22},{"t":1693,"m":22},{"t":1698,"m":20},{"t":1703,"m":15},{"t":1708,"m":8},{"t":1713,"m":25},{"t":1718,"m":40},{"t":1723,"m":60},{"t":1728,"m":75},{"t":1733,"m":85},{"t":1738,"m":75},{"t":1743,"m":60},{"t":1748,"m":50},{"t":1753,"m":40},{"t":1758,"m":35},{"t":1763,"m":28},{"t":1768,"m":22},{"t":1773,"m":15},{"t":1778,"m":8},{"t":1790,"m":-15},{"t":1795,"m":-30},{"t":1800,"m":-42},{"t":1805,"m":-52},{"t":1810,"m":-58},{"t":1815,"m":-50},{"t":1820,"m":-42},{"t":1825,"m":-38},{"t":1830,"m":-35},{"t":1835,"m":-35},{"t":1840,"m":-30},{"t":1845,"m":-28},{"t":1850,"m":-40},{"t":1855,"m":-50},{"t":1860,"m":-50},{"t":1865,"m":-35},{"t":1870,"m":-30},{"t":1878,"m":-28},{"t":1885,"m":-22},{"t":1895,"m":-18},{"t":1905,"m":-14},{"t":1915,"m":-6},{"t":1930,"m":5},{"t":1975,"m":5},{"t":1985,"m":10},{"t":1990,"m":14},{"t":1995,"m":10},{"t":2005,"m":7},{"t":2015,"m":8},{"t":2025,"m":10},{"t":2035,"m":9},{"t":2045,"m":5},{"t":2065,"m":-3},{"t":2085,"m":-5},{"t":2100,"m":-6},{"t":2115,"m":-4},{"t":2140,"m":4},{"t":2150,"m":8},{"t":2160,"m":8},{"t":2170,"m":9},{"t":2180,"m":8},{"t":2190,"m":10},{"t":2200,"m":15},{"t":2208,"m":22},{"t":2213,"m":25},{"t":2220,"m":20},{"t":2228,"m":18},{"t":2238,"m":14},{"t":2248,"m":10},{"t":2275,"m":-2},{"t":2285,"m":-4},{"t":2300,"m":3},{"t":2310,"m":5},{"t":2320,"m":7},{"t":2330,"m":9},{"t":2340,"m":14},{"t":2350,"m":16},{"t":2360,"m":22},{"t":2368,"m":26},{"t":2375,"m":26},{"t":2385,"m":20},{"t":2395,"m":12},{"t":2402,"m":6},{"t":2420,"m":-12},{"t":2428,"m":-22},{"t":2433,"m":-32},{"t":2438,"m":-50},{"t":2443,"m":-62},{"t":2448,"m":-75},{"t":2453,"m":-85},{"t":2458,"m":-100},{"t":2463,"m":-90},{"t":2468,"m":-60},{"t":2473,"m":-50},{"t":2478,"m":-48},{"t":2483,"m":-35},{"t":2490,"m":-25},{"t":2497,"m":-18},{"t":2503,"m":-8},{"t":2515,"m":4},{"t":2530,"m":5},{"t":2538,"m":18},{"t":2545,"m":14},{"t":2551,"m":8},{"t":2557,"m":-30},{"t":2562,"m":-42},{"t":2567,"m":-48},{"t":2572,"m":-50},{"t":2578,"m":-45},{"t":2583,"m":-35},{"t":2588,"m":-20},{"t":2603,"m":18},{"t":2608,"m":22},{"t":2613,"m":22},{"t":2618,"m":25},{"t":2623,"m":22},{"t":2628,"m":22},{"t":2633,"m":25},{"t":2638,"m":24},{"t":2643,"m":22},{"t":2650,"m":15},{"t":2658,"m":12},{"t":2668,"m":18},{"t":2673,"m":25},{"t":2680,"m":35},{"t":2688,"m":45},{"t":2695,"m":60},{"t":2703,"m":75},{"t":2708,"m":80},{"t":2713,"m":90},{"t":2718,"m":105},{"t":2723,"m":100},{"t":2728,"m":85},{"t":2733,"m":80},{"t":2738,"m":75},{"t":2743,"m":70},{"t":2748,"m":65},{"t":2753,"m":60},{"t":2758,"m":50},{"t":2763,"m":40},{"t":2768,"m":30},{"t":2775,"m":20},{"t":2780,"m":10},{"t":2793,"m":-20},{"t":2798,"m":-28},{"t":2803,"m":-25},{"t":2808,"m":-20},{"t":2813,"m":-18},{"t":2818,"m":-18},{"t":2823,"m":-15},{"t":2828,"m":-15},{"t":2833,"m":-12},{"t":2840,"m":-8},{"t":2848,"m":-6},{"t":2868,"m":-2},{"t":2888,"m":-12},{"t":2893,"m":-18},{"t":2898,"m":-30},{"t":2903,"m":-45},{"t":2906,"m":-60},{"t":2911,"m":-40},{"t":2916,"m":-25},{"t":2921,"m":-8},{"t":2930,"m":8},{"t":2935,"m":18},{"t":2940,"m":22},{"t":2945,"m":28},{"t":2950,"m":15},{"t":2955,"m":5},{"t":2963,"m":-10},{"t":2970,"m":-15},{"t":2978,"m":-22},{"t":2985,"m":-25},{"t":2993,"m":-28},{"t":3000,"m":-25},{"t":3008,"m":-12},{"t":3015,"m":-5}],
"dif":[{"t":55,"m":67},{"t":70,"m":37},{"t":85,"m":25},{"t":100,"m":27},{"t":120,"m":37},{"t":140,"m":62},{"t":155,"m":87},{"t":172,"m":96},{"t":190,"m":77},{"t":205,"m":22},{"t":225,"m":-18},{"t":245,"m":-30},{"t":265,"m":-20},{"t":290,"m":-13},{"t":360,"m":-8},{"t":440,"m":9},{"t":490,"m":15},{"t":550,"m":20},{"t":580,"m":40},{"t":600,"m":45},{"t":620,"m":42},{"t":660,"m":22},{"t":700,"m":4},{"t":740,"m":0},{"t":765,"m":-14},{"t":790,"m":-3},{"t":810,"m":32},{"t":825,"m":77},{"t":850,"m":92},{"t":880,"m":89},{"t":890,"m":67},{"t":905,"m":102},{"t":920,"m":167},{"t":935,"m":122},{"t":955,"m":42},{"t":985,"m":37},{"t":1000,"m":17},{"t":1015,"m":-23},{"t":1030,"m":-128},{"t":1050,"m":-203},{"t":1075,"m":-228},{"t":1095,"m":-243},{"t":1115,"m":-213},{"t":1135,"m":-193},{"t":1155,"m":-253},{"t":1175,"m":-260},{"t":1195,"m":-233},{"t":1230,"m":-178},{"t":1255,"m":-118},{"t":1290,"m":-68},{"t":1310,"m":52},{"t":1325,"m":97},{"t":1345,"m":92},{"t":1360,"m":117},{"t":1380,"m":52},{"t":1405,"m":17},{"t":1430,"m":2},{"t":1450,"m":37},{"t":1470,"m":67},{"t":1490,"m":127},{"t":1515,"m":140},{"t":1535,"m":112},{"t":1555,"m":57},{"t":1568,"m":52},{"t":1583,"m":7},{"t":1598,"m":2},{"t":1623,"m":2},{"t":1653,"m":-13},{"t":1678,"m":7},{"t":1713,"m":17},{"t":1738,"m":97},{"t":1758,"m":107},{"t":1783,"m":87},{"t":1803,"m":32},{"t":1838,"m":17},{"t":1868,"m":-18},{"t":1908,"m":-40},{"t":1958,"m":-31},{"t":1998,"m":-18},{"t":2068,"m":-23},{"t":2128,"m":-26},{"t":2188,"m":-3},{"t":2228,"m":17},{"t":2288,"m":22},{"t":2348,"m":42},{"t":2383,"m":62},{"t":2418,"m":57},{"t":2438,"m":-13},{"t":2468,"m":-73},{"t":2508,"m":-73},{"t":2543,"m":-48},{"t":2568,"m":-88},{"t":2588,"m":-103},{"t":2628,"m":-73},{"t":2663,"m":-63},{"t":2693,"m":-8},{"t":2708,"m":62},{"t":2733,"m":97},{"t":2768,"m":117},{"t":2793,"m":87},{"t":2853,"m":57},{"t":2888,"m":57},{"t":2908,"m":7},{"t":2938,"m":52},{"t":2978,"m":22},{"t":3018,"m":2}],
"dea":[{"t":55,"m":92},{"t":75,"m":62},{"t":100,"m":37},{"t":130,"m":40},{"t":160,"m":67},{"t":185,"m":82},{"t":205,"m":57},{"t":235,"m":2},{"t":270,"m":-13},{"t":350,"m":-8},{"t":440,"m":7},{"t":550,"m":14},{"t":610,"m":40},{"t":660,"m":22},{"t":700,"m":4},{"t":765,"m":-8},{"t":790,"m":-3},{"t":815,"m":32},{"t":840,"m":77},{"t":870,"m":92},{"t":900,"m":77},{"t":915,"m":102},{"t":932,"m":140},{"t":955,"m":92},{"t":985,"m":57},{"t":1015,"m":12},{"t":1030,"m":-68},{"t":1060,"m":-148},{"t":1095,"m":-218},{"t":1135,"m":-203},{"t":1180,"m":-243},{"t":1210,"m":-233},{"t":1245,"m":-193},{"t":1290,"m":-108},{"t":1320,"m":12},{"t":1345,"m":82},{"t":1370,"m":94},{"t":1405,"m":42},{"t":1440,"m":17},{"t":1470,"m":52},{"t":1495,"m":102},{"t":1520,"m":120},{"t":1550,"m":102},{"t":1568,"m":77},{"t":1598,"m":17},{"t":1623,"m":4},{"t":1658,"m":-8},{"t":1688,"m":4},{"t":1718,"m":27},{"t":1753,"m":82},{"t":1783,"m":92},{"t":1818,"m":47},{"t":1858,"m":7},{"t":1908,"m":-33},{"t":1968,"m":-31},{"t":2038,"m":-13},{"t":2128,"m":-28},{"t":2208,"m":2},{"t":2268,"m":19},{"t":2338,"m":32},{"t":2398,"m":57},{"t":2433,"m":47},{"t":2468,"m":-28},{"t":2503,"m":-66},{"t":2543,"m":-58},{"t":2583,"m":-98},{"t":2658,"m":-68},{"t":2693,"m":-38},{"t":2743,"m":67},{"t":2783,"m":104},{"t":2858,"m":62},{"t":2888,"m":62},{"t":2913,"m":22},{"t":2943,"m":47},{"t":2988,"m":17},{"t":3018,"m":7}],
"ml":[{"t":1235,"t2":1758,"m":190,"c":"r"},{"t":2658,"t2":2936,"m":108,"c":"r"},{"t":909,"t2":1235,"m":-169,"c":"g"},{"t":1758,"t2":2658,"m":-101,"c":"g"}],
"mlab":[{"t":822,"m":112,"x":"15.176766"},{"t":1673,"m":192,"x":"13.715745"},{"t":1150,"m":-168,"x":"11.063495"},{"t":2588,"m":-98,"x":"8.43049"},{"t":2858,"m":112,"x":"5.054495"}],
"sl":[{"t":62,"s":172},{"t":80,"s":152},{"t":100,"s":152},{"t":120,"s":157},{"t":150,"s":142},{"t":180,"s":132},{"t":208,"s":117},{"t":222,"s":147},{"t":240,"s":132},{"t":270,"s":137},{"t":310,"s":132},{"t":380,"s":139},{"t":400,"s":132},{"t":420,"s":142},{"t":450,"s":137},{"t":470,"s":152},{"t":530,"s":167},{"t":560,"s":147},{"t":620,"s":169},{"t":650,"s":157},{"t":700,"s":152},{"t":730,"s":132},{"t":800,"s":137},{"t":870,"s":144},{"t":880,"s":137},{"t":915,"s":144},{"t":925,"s":117},{"t":950,"s":122},{"t":970,"s":102},{"t":1020,"s":107},{"t":1032,"s":77},{"t":1050,"s":92},{"t":1090,"s":92},{"t":1115,"s":85},{"t":1150,"s":122},{"t":1200,"s":107},{"t":1300,"s":112},{"t":1380,"s":117},{"t":1410,"s":105},{"t":1440,"s":122},{"t":1490,"s":139},{"t":1530,"s":139},{"t":1568,"s":135},{"t":1618,"s":119},{"t":1668,"s":117},{"t":1693,"s":129},{"t":1768,"s":127},{"t":1868,"s":127},{"t":1908,"s":119},{"t":1968,"s":129},{"t":2008,"s":139},{"t":2068,"s":149},{"t":2118,"s":152},{"t":2143,"s":162},{"t":2178,"s":167},{"t":2208,"s":157},{"t":2268,"s":159},{"t":2358,"s":162},{"t":2403,"s":182},{"t":2428,"s":175},{"t":2448,"s":152},{"t":2473,"s":137},{"t":2508,"s":125},{"t":2538,"s":145},{"t":2568,"s":142},{"t":2648,"s":157},{"t":2698,"s":147},{"t":2818,"s":152},{"t":2858,"s":142},{"t":2928,"s":135},{"t":2948,"s":149},{"t":3018,"s":152}]
},
"resolve":{"scale":{"x":"independent","y":"independent","color":"independent","shape":"independent","fill":"independent"},"axis":{"x":"independent","y":"independent"}},
"layer":[
{"encoding":{"x":{"field":"t","type":"quantitative","title":null,"scale":{"domain":[51,3022],"range":[23,2296]},"axis":{"orient":"bottom","offset":-209,"values":[288,808,1328,1846,2366,2884,3022],"grid":false,"domainColor":"#c4c3d6","domainWidth":2.5,"tickColor":"#c4c3d6","tickWidth":1.5,"tickSize":13,"labelColor":"#8f8e9c","labelFont":"Liberation Sans","labelFontSize":24,"labelPadding":9,"labelLimit":500,"labelOverlap":false,"labelFlush":false,"labelBound":false,"labelExpr":"datum.value>3000?'':timeFormat(time(datetime(2026,7,14,8,30))+round((datum.value-51)/4.945)*1800000,'%Y-%m-%dT%H:%M:%S+08:00')"}}},
"layer":[
{"data":{"name":"k"},"mark":{"type":"rule","strokeWidth":2.2},"encoding":{"y":{"field":"v","type":"quantitative","title":null,"axis":null,"scale":{"domain":[0,1000],"range":[1191,846.2]}},"y2":{"datum":0},"color":{"condition":{"test":"datum.c>=datum.o","value":"#7d1040"},"value":"#0c7a5e"}}},
{"data":{"name":"ma5"},"mark":{"type":"line","color":"#ffffff","strokeWidth":3.5,"interpolate":"monotone"},"encoding":{"y":{"field":"v","type":"quantitative","title":null}}},
{"data":{"name":"ma20"},"mark":{"type":"line","color":"#ffff00","strokeWidth":5.5,"interpolate":"monotone"},"encoding":{"y":{"field":"v","type":"quantitative","title":null}}}
]},
{"data":{"values":[{"t":288}]},"mark":{"type":"rule","opacity":0},"encoding":{"x":{"field":"t","type":"quantitative","title":null,"scale":{"domain":[51,3022],"range":[23,2296]},"axis":{"orient":"bottom","offset":-369,"values":[288,808,1328,1846,2366,2884,3022],"grid":false,"labels":false,"domainColor":"#c4c3d6","domainWidth":2.5,"tickColor":"#c4c3d6","tickWidth":1.5,"tickSize":9}}}},
{"encoding":{"x":{"field":"t","type":"quantitative","title":null,"scale":{"domain":[51,3022],"range":[23,2296]},"axis":{"orient":"bottom","offset":-119,"values":[288,808,1328,1846,2366,2884,3022],"grid":false,"labels":false,"domainColor":"#c4c3d6","domainWidth":2.5,"tickColor":"#c4c3d6","tickWidth":1.5,"tickSize":9}}},
"layer":[
{"data":{"name":"hist"},"mark":{"type":"rule","strokeWidth":2.8},"encoding":{"y":{"field":"m","type":"quantitative","title":null,"axis":null,"scale":{"domain":[-400,400],"range":[1418.9,1143.1]}},"y2":{"datum":0},"color":{"condition":{"test":"datum.m>=0","value":"#f02828"},"value":"#12aa3c"}}},
{"data":{"name":"ml"},"mark":{"type":"rule","strokeWidth":3},"encoding":{"x2":{"field":"t2"},"y":{"field":"m","type":"quantitative","title":null},"color":{"condition":{"test":"datum.c==='r'","value":"#e80000"},"value":"#006e00"}}},
{"data":{"name":"dif"},"mark":{"type":"line","color":"#ffffff","strokeWidth":2.2,"interpolate":"monotone"},"encoding":{"y":{"field":"m","type":"quantitative","title":null}}},
{"data":{"name":"dea"},"mark":{"type":"line","color":"#ffee00","strokeWidth":2.2,"interpolate":"monotone"},"encoding":{"y":{"field":"m","type":"quantitative","title":null}}}
]},
{"encoding":{"x":{"field":"t","type":"quantitative","title":null,"axis":null,"scale":{"domain":[51,3022],"range":[23,2296]}}},
"layer":[
{"data":{"values":[{"t":61,"t2":3030,"s":214,"s2":0}]},"mark":{"type":"rect","clip":true,"fill":"#100c2a","fillOpacity":0,"stroke":"#6a6878","strokeWidth":3,"cornerRadius":6},"encoding":{"x2":{"field":"t2"},"y":{"field":"s","type":"quantitative","title":null,"axis":null,"scale":{"domain":[0,1600],"range":[1446.4,894.7]}},"y2":{"field":"s2"}}},
{"data":{"name":"sl"},"mark":{"type":"area","clip":true,"color":"#221e38"},"encoding":{"y":{"field":"s","type":"quantitative","title":null},"y2":{"datum":80}}},
{"data":{"name":"sl"},"mark":{"type":"line","clip":true,"color":"#6e6d7c","strokeWidth":2},"encoding":{"y":{"field":"s","type":"quantitative","title":null}}}
]},
{"encoding":{"x":{"field":"t","type":"quantitative","title":null,"axis":null,"scale":{"domain":[51,3022],"range":[23,2296]}}},
"layer":[
{"data":{"name":"sl"},"mark":{"type":"area","color":"#221e38"},"encoding":{"y":{"field":"s","type":"quantitative","title":null,"axis":null,"scale":{"domain":[0,1600],"range":[1400.2,848.5]}},"y2":{"datum":80}}},
{"data":{"name":"sl"},"mark":{"type":"line","color":"#6e6d7c","strokeWidth":2},"encoding":{"y":{"field":"s","type":"quantitative","title":null}}},
{"data":{"values":[{"t":61,"t2":3030,"s":214,"s2":80}]},"mark":{"type":"rect","fillOpacity":0,"fill":"#100c2a","stroke":"#6a6878","strokeWidth":3,"cornerRadius":6},"encoding":{"x2":{"field":"t2"},"y":{"field":"s","type":"quantitative","title":null},"y2":{"field":"s2"}}},
{"data":{"values":[{"t":61,"t2":3030,"s":80,"s2":45}]},"mark":{"type":"rect","fill":"#221e38","stroke":"#6a6878","strokeWidth":3,"cornerRadius":10},"encoding":{"x2":{"field":"t2"},"y":{"field":"s","type":"quantitative","title":null},"y2":{"field":"s2"}}},
{"data":{"values":[{"t":2150,"t2":3028,"s":254,"s2":214,"c":"a"},{"t":2150,"t2":3028,"s":214,"s2":122,"c":"b"},{"t":2150,"t2":3028,"s":122,"s2":80,"c":"c"},{"t":2150,"t2":3028,"s":80,"s2":45,"c":"d"},{"t":2150,"t2":3028,"s":45,"s2":0,"c":"b"}]},"mark":{"type":"rect"},"encoding":{"x2":{"field":"t2"},"y":{"field":"s","type":"quantitative","title":null},"y2":{"field":"s2"},"fill":{"field":"c","legend":null,"scale":{"domain":["a","b","c","d"],"range":["#44415a","#2d3157","#5a6180","#46557a"]}}}},
{"data":{"name":"sl"},"transform":[{"filter":"datum.t>=2150"}],"mark":{"type":"line","color":"#7f93bd","strokeWidth":2},"encoding":{"y":{"field":"s","type":"quantitative","title":null}}},
{"data":{"values":[{"t":2143,"t2":2157,"s":182,"s2":77},{"t":3021,"t2":3035,"s":182,"s2":77},{"t":2143,"t2":2157,"s":52,"s2":0},{"t":3021,"t2":3035,"s":52,"s2":0}]},"mark":{"type":"rect","fill":"#3c4064","stroke":"#d8d8e2","strokeWidth":2.5,"cornerRadius":4},"encoding":{"x2":{"field":"t2"},"y":{"field":"s","type":"quantitative","title":null},"y2":{"field":"s2"}}},
{"data":{"values":[{"t":2588,"s":100,"x":"|||"}]},"mark":{"type":"text","color":"#ffffff","font":"Liberation Sans","fontSize":15,"baseline":"middle","fontWeight":"bold"},"encoding":{"y":{"field":"s","type":"quantitative","title":null},"text":{"field":"x"}}},
{"data":{"values":[{"t":2898,"s":7,"x":"@ 总经办 王建康"}]},"mark":{"type":"text","color":"#908f9c","opacity":0.8,"font":"Liberation Sans, Noto Sans CJK SC","fontSize":24,"align":"left","baseline":"middle"},"encoding":{"y":{"field":"s","type":"quantitative","title":null},"text":{"field":"x"}}},
{"data":{"values":[{"t":2867,"s":7}]},"mark":{"type":"point","shape":"M0 -1L.6 -.3L0 .3L-.6 -.3Z M-.6 .1L0 .9L.6 .1","stroke":"#908f9c","strokeWidth":2,"opacity":0.8,"size":1200,"filled":false},"encoding":{"y":{"field":"s","type":"quantitative","title":null}}}
]},
{"encoding":{"x":{"field":"t","type":"quantitative","title":null,"axis":null,"scale":{"domain":[51,3022],"range":[23,2296]}}},
"layer":[
{"data":{"name":"mlab"},"mark":{"type":"text","color":"#dcdce4","font":"Liberation Sans","fontSize":23,"fontWeight":"bold","baseline":"middle"},"encoding":{"y":{"field":"m","type":"quantitative","title":null,"axis":null,"scale":{"domain":[-400,400],"range":[1418.9,1143.1]}},"text":{"field":"x"}}}
]},
{"encoding":{"x":{"field":"t","type":"quantitative","title":null,"axis":null,"scale":{"domain":[51,3022],"range":[23,2296]}}},
"layer":[
{"data":{"name":"k"},"mark":{"type":"rule","strokeWidth":1.5},"encoding":{"y":{"field":"l","type":"quantitative","title":null,"axis":null,"scale":{"domain":[0,100],"range":[1514.9,-16]}},"y2":{"field":"h"},"color":{"condition":{"test":"datum.c>=datum.o","value":"#ff1654"},"value":"#00f08c"}}},
{"data":{"name":"k"},"mark":{"type":"rule","strokeWidth":2.6},"encoding":{"y":{"field":"o","type":"quantitative","title":null},"y2":{"field":"c"},"color":{"condition":{"test":"datum.c>=datum.o","value":"#ff1654"},"value":"#00f08c"}}},
{"data":{"name":"zs"},"mark":{"type":"rect","fill":"#ffffff","fillOpacity":0.2,"stroke":"#ffffff","strokeWidth":4},"encoding":{"x2":{"field":"t2"},"y":{"field":"p","type":"quantitative","title":null},"y2":{"field":"p2"}}},
{"data":{"name":"zsLast"},"mark":{"type":"rect","fill":"#ffffff","fillOpacity":0.2,"stroke":"#ffffff","strokeWidth":4,"strokeDash":[14,10]},"encoding":{"x2":{"field":"t2"},"y":{"field":"p","type":"quantitative","title":null},"y2":{"field":"p2"}}},
{"data":{"name":"bi"},"mark":{"type":"line","color":"#ffdc3c","strokeWidth":2},"encoding":{"y":{"field":"p","type":"quantitative","title":null}}},
{"data":{"values":[{"t":1236,"p":45.2,"p2":35}]},"mark":{"type":"rule","color":"#8fb8f0","strokeWidth":4},"encoding":{"y":{"field":"p","type":"quantitative","title":null},"y2":{"field":"p2"}}},
{"data":{"name":"seg"},"mark":{"type":"line","color":"#00bfff","strokeWidth":4.5},"encoding":{"y":{"field":"p","type":"quantitative","title":null}}},
{"data":{"name":"segLast"},"mark":{"type":"line","color":"#00bfff","strokeWidth":4.5,"strokeDash":[16,10]},"encoding":{"y":{"field":"p","type":"quantitative","title":null}}},
{"data":{"name":"buy"},"mark":{"type":"point","filled":true,"opacity":1,"color":"#b81f4d","size":676,"shape":"M0 0L1 1.46L0 1.1L-1 1.46Z"},"encoding":{"y":{"field":"p","type":"quantitative","title":null}}},
{"data":{"name":"sell"},"mark":{"type":"point","filled":true,"opacity":1,"color":"#164a8c","size":676,"shape":"M0 0L1 -1.46L0 -1.1L-1 -1.46Z"},"encoding":{"y":{"field":"p","type":"quantitative","title":null}}},
{"data":{"name":"bc"},"mark":{"type":"point","filled":true,"opacity":0.85,"color":"#5b4232","size":420,"shape":"circle"},"encoding":{"y":{"field":"p","type":"quantitative","title":null}}},
{"data":{"name":"sig"},"mark":{"type":"text","color":"#d4a62a","font":"Liberation Sans, Noto Sans CJK SC","fontSize":24,"fontWeight":"bold","baseline":"middle"},"encoding":{"y":{"field":"p","type":"quantitative","title":null},"text":{"field":"x"}}}
]},
{"data":{"values":[{"n":"rect"},{"n":"polygon"},{"n":"lr"},{"n":"ud"},{"n":"keep"},{"n":"clear"}]},"mark":{"type":"point","filled":false,"opacity":1,"stroke":"#b9b8ce","strokeWidth":1.6,"strokeDash":[4,3],"size":900},"encoding":{"x":{"field":"n","type":"ordinal","title":null,"axis":null,"sort":null,"scale":{"type":"point","padding":0,"range":[2063,2338]}},"y":{"value":30},"shape":{"field":"n","legend":null,"sort":null,"scale":{"domain":["rect","polygon","lr","ud","keep","clear"],"range":["M-1 -.9H1V.9H-1Z","M-.9 -1L-.3 -.2L.9 -1L.5 .2L.1 1L-.2 .2Z","M-.6 -.9H.6V.9H-.6Z M-1 0H-.6 M-1 0L-.8 -.2 M-1 0L-.8 .2 M1 0H.6 M1 0L.8 -.2 M1 0L.8 .2","M-.8 -.6H.8V.6H-.8Z M0 -1V-.6 M0 -1L-.2 -.8 M0 -1L.2 -.8 M0 1V.6 M0 1L-.2 .8 M0 1L.2 .8","M-.9 -1H.6V-.7 M-.9 -1V.6 M-.6 -.4H.9V1H-.6Z M-.1 .1H.4","M-1 -1H1V1H-1Z M-.5 -.6L.5 .6 M.5 -.6L-.5 .6"]}}}},
{"data":{"values":[]},"mark":{"type":"point","filled":true,"opacity":1},"encoding":{"color":{"field":"s","type":"nominal","scale":{"domain":["K线","笔","线段","走势段","趋势段","笔中枢","线段中枢","背驰","买点","卖点"],"range":["#ff1654","#ffdc3c","#00bfff","#8ad014","#9a32cd","#ffffff","#90c0ff","#5b4232","#b81f4d","#164a8c"]},"legend":{"title":null,"orient":"none","legendX":501,"legendY":4,"direction":"horizontal","columns":10,"gridAlign":"none","symbolSize":2500,"symbolStrokeWidth":0,"symbolOpacity":1,"labelFontSize":24,"labelColor":"#b9b8ce","labelFont":"Liberation Sans, Noto Sans CJK SC","labelOffset":10,"columnPadding":21}},"shape":{"field":"s","type":"nominal","scale":{"domain":["K线","笔","线段","走势段","趋势段","笔中枢","线段中枢","背驰","买点","卖点"],"range":["M-.85 -.64H.85Q1 -.64 1 -.49V.49Q1 .64 .85 .64H-.85Q-1 .64 -1 .49V-.49Q-1 -.64 -.85 -.64Z","M-1 -.07H-.4A.42 .42 0 1 1 .4 -.07H1V.07H.4A.42 .42 0 1 1 -.4 .07H-1Z","M-1 -.07H-.4A.42 .42 0 1 1 .4 -.07H1V.07H.4A.42 .42 0 1 1 -.4 .07H-1Z","M-1 -.07H-.4A.42 .42 0 1 1 .4 -.07H1V.07H.4A.42 .42 0 1 1 -.4 .07H-1Z","M-1 -.07H-.4A.42 .42 0 1 1 .4 -.07H1V.07H.4A.42 .42 0 1 1 -.4 .07H-1Z","M-1 -.07H-.4A.42 .42 0 1 1 .4 -.07H1V.07H.4A.42 .42 0 1 1 -.4 .07H-1Z","M-1 -.07H-.4A.42 .42 0 1 1 .4 -.07H1V.07H.4A.42 .42 0 1 1 -.4 .07H-1Z","M-.97 0A.54 .54 0 1 1 .11 0A.54 .54 0 1 1 -.97 0Z","M.3 0L1.62 1.1L.3 .72L-1.02 1.1Z","M.3 0L1.62 1.1L.3 .72L-1.02 1.1Z"]},"legend":{"title":null,"orient":"none","legendX":501,"legendY":4,"direction":"horizontal","columns":10,"gridAlign":"none","symbolSize":2500,"symbolStrokeWidth":0,"symbolOpacity":1,"labelFontSize":24,"labelColor":"#b9b8ce","labelFont":"Liberation Sans, Noto Sans CJK SC","labelOffset":10,"columnPadding":21}}}}
]
}
